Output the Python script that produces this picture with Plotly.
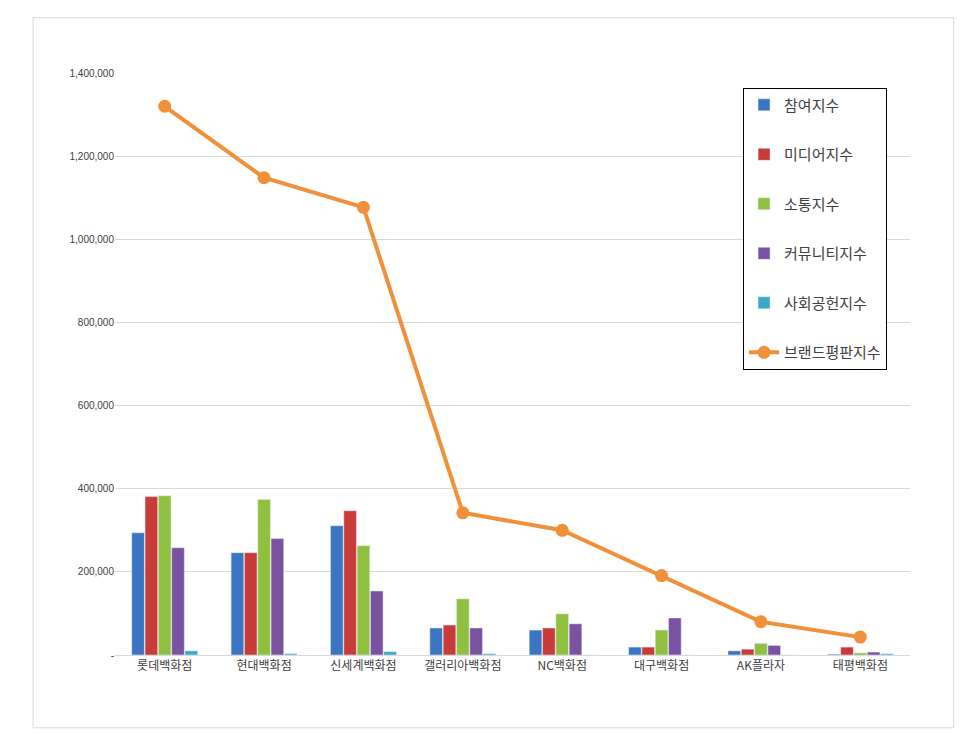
import plotly.graph_objects as go

categories = ["롯데백화점","현대백화점","신세계백화점","갤러리아백화점","NC백화점","대구백화점","AK플라자","태평백화점"]
participation = [294000,246000,311000,65000,60000,19000,10000,2000]
media = [381000,246000,347000,72000,65000,19000,14000,19000]
communication = [383000,374000,263000,135000,99000,60000,28000,5000]
community = [258000,280000,154000,65000,75000,89000,23000,7000]
social = [10000,3000,8000,3000,0,0,0,3000]
brand = [1320000,1148000,1077000,342000,300000,191000,80000,43000]

series = [("참여지수",participation,"#3a75c4"),("미디어지수",media,"#c83b38"),
          ("소통지수",communication,"#8fc03f"),("커뮤니티지수",community,"#7a52a0"),
          ("사회공헌지수",social,"#38aac8")]
fig = go.Figure()
for name, vals, c in series:
    fig.add_trace(go.Bar(x=categories, y=vals, name=name, marker_color=c, legendgroup=name))
fig.add_trace(go.Scatter(x=categories, y=brand, name="브랜드평판지수", mode="lines+markers", legendgroup="b",
                         line=dict(color="#f0913a", width=4), marker=dict(size=13, color="#f0913a")))
tv = list(range(0,1400001,200000))
fig.update_layout(
    width=966, height=735, paper_bgcolor="white", plot_bgcolor="white",
    margin=dict(l=107, r=64, t=65, b=88),
    barmode="group", bargap=0.33, bargroupgap=0.05,
    font=dict(family="Noto Sans CJK KR", color="#404040"),
    xaxis=dict(tickfont=dict(size=12), showline=True, linecolor="#d9d9d9"),
    yaxis=dict(range=[0,1400000], tickvals=tv, ticktext=["-"]+[f"{v:,}" for v in tv[1:]],
               tickfont=dict(size=10, family="Liberation Sans"), gridcolor="#d9d9d9", zeroline=False),
    legend=dict(x=0.79, y=0.975, xanchor="left", yanchor="top", bordercolor="black", borderwidth=1,
                font=dict(size=15), itemwidth=30, tracegroupgap=27, bgcolor="white",
                traceorder="grouped"),
    shapes=[dict(type="rect", xref="paper", yref="paper", x0=-0.103, x1=1.055, y0=-0.125, y1=1.095,
                 line=dict(color="#d9d9d9", width=1))],
)
fig.write_html("out.html")
